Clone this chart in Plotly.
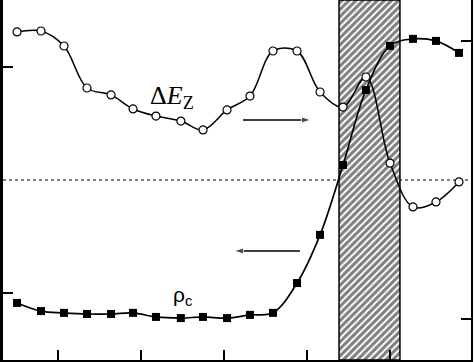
import plotly.graph_objects as go

# ---- data ----
x_vals = [0.506, 0.795, 1.072, 1.349, 1.639, 1.904, 2.18, 2.48, 2.747, 3.036,
          3.313, 3.59, 3.88, 4.157, 4.434, 4.71, 5.0, 5.277, 5.554, 5.831]
rho_c = [0.956, 0.920, 0.912, 0.907, 0.907, 0.912, 0.894, 0.889, 0.894, 0.889,
         0.903, 0.912, 1.044, 1.257, 1.566, 1.898, 2.093, 2.124, 2.115, 2.062]
delta_ez = [1.065, 1.072, 0.964, 0.662, 0.612, 0.511, 0.460, 0.424, 0.360, 0.504,
            0.604, 0.928, 0.928, 0.633, 0.525, 0.741, 0.122, -0.194, -0.158, -0.014]
x_ticks = [1, 2, 3, 4, 5]
left_ticks = [1, 2]
right_ticks = [-1, 1]
band = [4.386, 5.120]   # hatched region start / end
ez_arrow_x = [3.229, 4.048]   # tail -> head (points right, to the right axis)
ez_arrow_y = [0.432, 0.432]
rho_arrow_x = [3.916, 3.12]   # tail -> head (points left, to the left axis)
rho_arrow_y = [1.186, 1.186]

# ---- axis ranges ----
x_range = [0.337, 5.976]
left_range = [0.7035, 2.296]
right_range = [-1.295, 1.295]

fig = go.Figure()

# hatched band
fig.add_trace(go.Bar(
    x=[(band[0] + band[1]) / 2], width=[band[1] - band[0]],
    base=[left_range[0]], y=[left_range[1] - left_range[0]],
    marker=dict(color="white",
                pattern=dict(shape="/", fgcolor="black", bgcolor="white",
                             size=5, solidity=0.6),
                line=dict(color="black", width=1.5)),
    yaxis="y", showlegend=False, hoverinfo="skip"))

# rho_c (left axis)
fig.add_trace(go.Scatter(
    x=x_vals, y=rho_c, mode="lines+markers", yaxis="y",
    line=dict(color="black", width=1.7, shape="spline", smoothing=1.0),
    marker=dict(symbol="square", size=8, color="black"),
    showlegend=False))

# Delta E_Z (right axis)
fig.add_trace(go.Scatter(
    x=x_vals, y=delta_ez, mode="lines+markers", yaxis="y2",
    line=dict(color="black", width=1.5, shape="spline", smoothing=1.0),
    marker=dict(symbol="circle", size=8, color="white",
                line=dict(color="black", width=1.2)),
    showlegend=False))

# arrows
fig.add_trace(go.Scatter(
    x=ez_arrow_x, y=ez_arrow_y, yaxis="y2", mode="lines+markers",
    line=dict(color="black", width=1.5),
    marker=dict(symbol="arrow", angleref="previous", size=[0, 10], color="black"),
    showlegend=False, hoverinfo="skip"))
fig.add_trace(go.Scatter(
    x=rho_arrow_x, y=rho_arrow_y, yaxis="y", mode="lines+markers",
    line=dict(color="black", width=1.5),
    marker=dict(symbol="arrow", angleref="previous", size=[0, 10], color="black"),
    showlegend=False, hoverinfo="skip"))

fig.update_layout(
    width=474, height=362,
    margin=dict(l=3, r=3, t=0, b=2),
    paper_bgcolor="white", plot_bgcolor="white",
    barmode="overlay",
    xaxis=dict(range=x_range, showgrid=False, zeroline=False,
               showline=True, linecolor="black", linewidth=2.5,
               ticks="inside", ticklen=10, tickwidth=2, tickcolor="black",
               tickvals=x_ticks, showticklabels=False),
    yaxis=dict(range=left_range, showgrid=False, zeroline=False,
               showline=True, linecolor="black", linewidth=3,
               ticks="inside", ticklen=10, tickwidth=2, tickcolor="black",
               tickvals=left_ticks, showticklabels=False),
    yaxis2=dict(range=right_range, overlaying="y", side="right",
                showgrid=False, zeroline=False,
                showline=True, linecolor="black", linewidth=2,
                ticks="inside", ticklen=10, tickwidth=2, tickcolor="black",
                tickvals=right_ticks, showticklabels=False),
    shapes=[dict(type="line", xref="paper", x0=0, x1=1, yref="y2", y0=0, y1=0,
                 line=dict(color="black", width=1, dash="dot"), layer="below")],
    annotations=[
        dict(text="Δ<i>E</i><sub>Z</sub>", x=2.373, y=0.60, xref="x", yref="y2",
             showarrow=False, font=dict(family="Liberation Serif", size=26, color="black")),
        dict(text="ρ<sub>c</sub>", x=2.494, y=0.985, xref="x", yref="y",
             showarrow=False, font=dict(family="Liberation Sans", size=21, color="black")),
    ],
)

fig.write_html("out.html",
               config={"displayModeBar": False, "staticPlot": True},
               post_script="document.body.style.margin='0';document.body.style.overflow='hidden';")
